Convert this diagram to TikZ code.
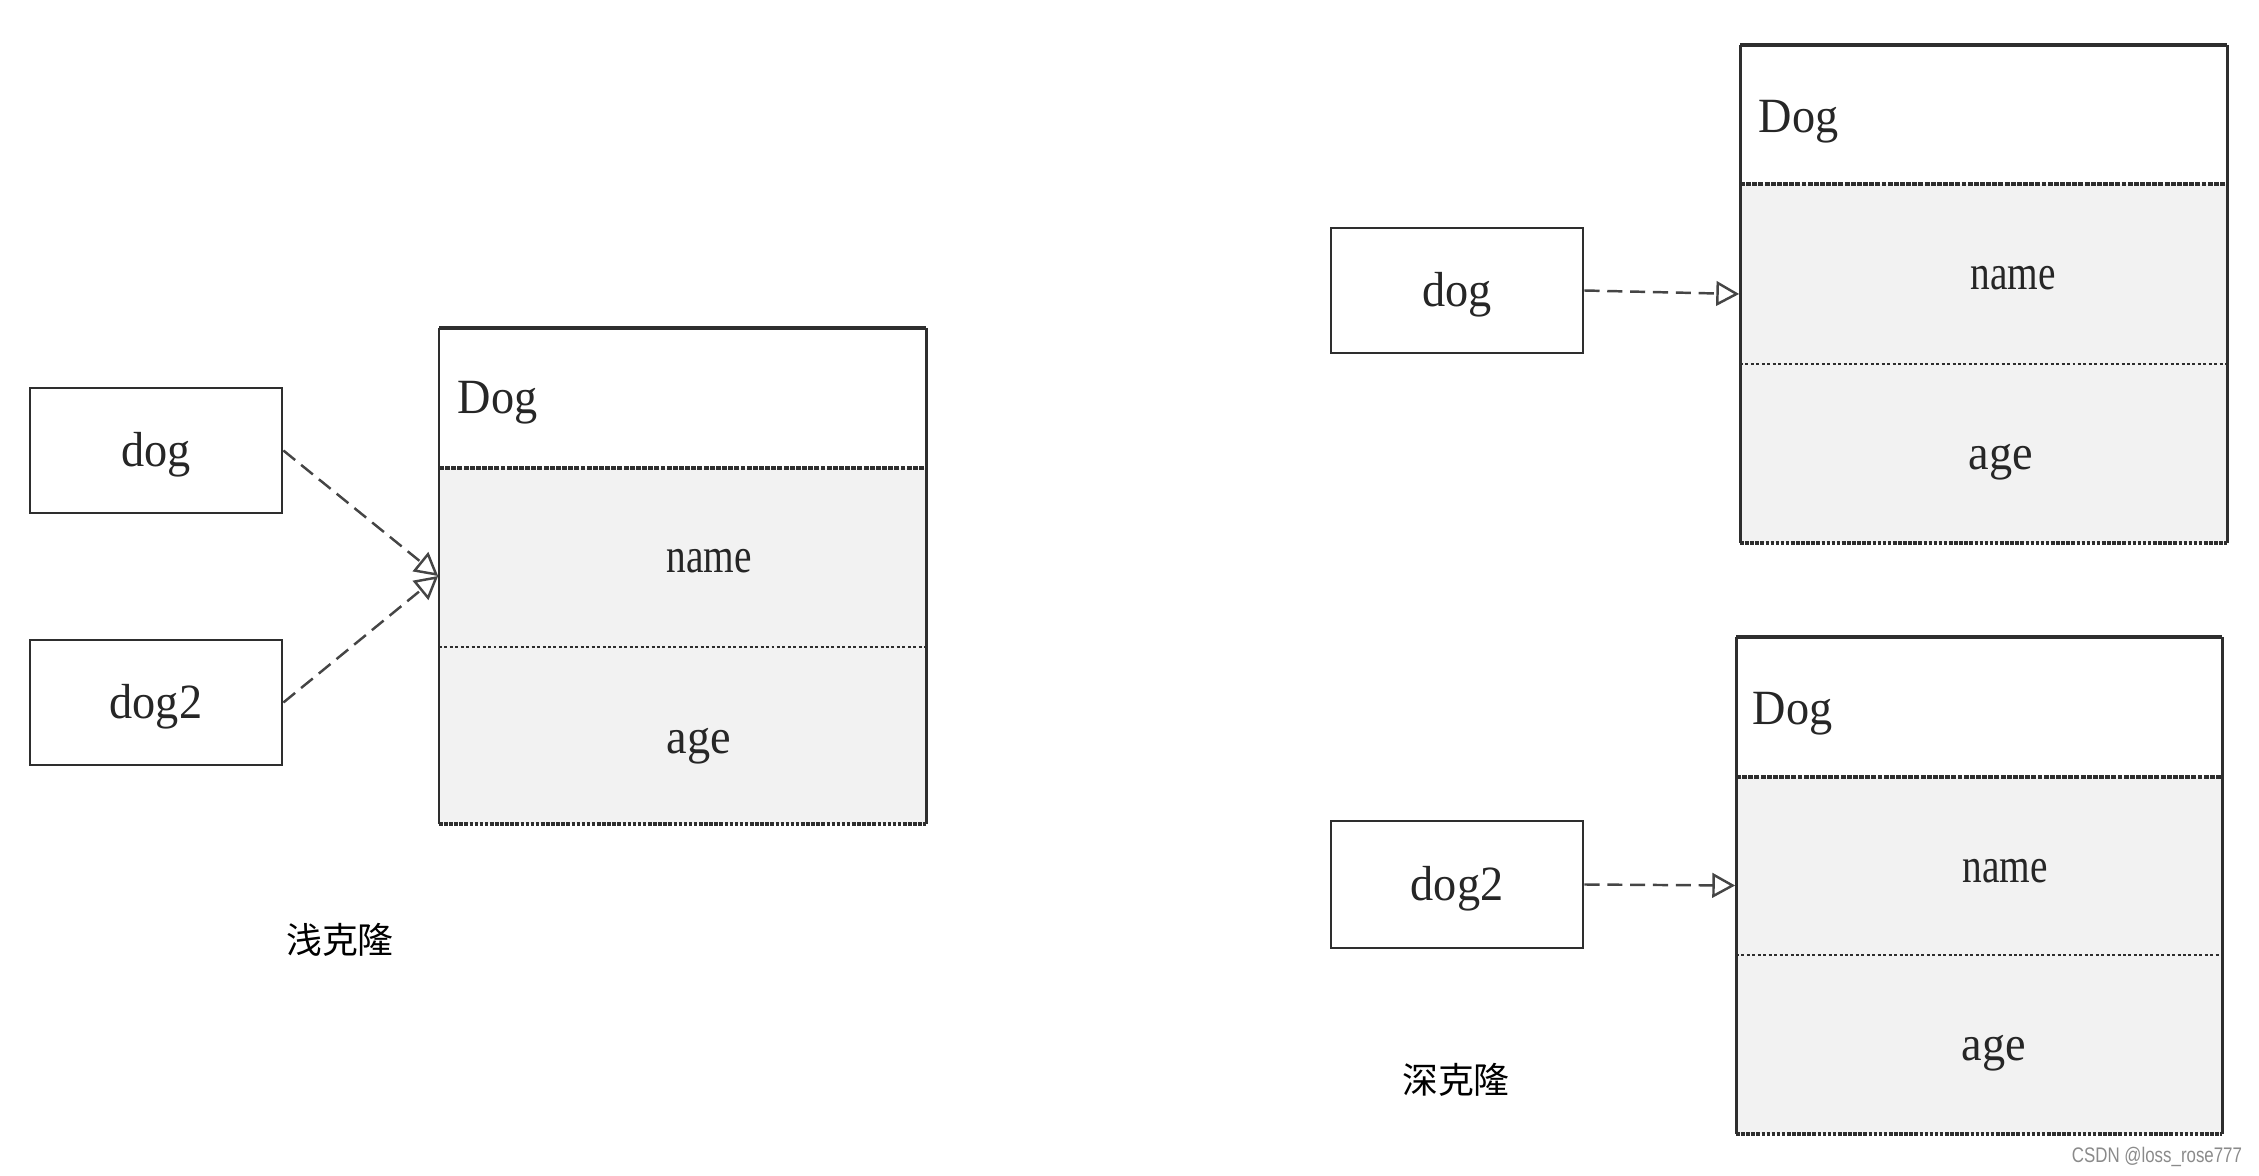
\documentclass[tikz,border=0pt]{standalone}
\usepackage{fontspec}
\setmainfont{Liberation Serif}[FakeStretch=0.94]
\newfontfamily\cjkfont{Noto Sans CJK SC}
\newfontfamily\wmfont{Liberation Sans}[FakeStretch=0.8]
\usetikzlibrary{arrows.meta}
\definecolor{linec}{HTML}{2E2E2E}
\definecolor{textc}{HTML}{262626}
\definecolor{bodyfill}{HTML}{F2F2F2}
\definecolor{arrowc}{HTML}{454545}
\definecolor{wmgray}{HTML}{8A8A8A}
% L T R B H M  (pixel coordinates)
\newcommand\classbody[6]{%
  \fill[white] (#1,#2) rectangle (#3,#5);
  \fill[bodyfill] (#1,#5) rectangle (#3,#4);
  \draw[sideline] (#1,#2) -- (#1,#4);
  \draw[sideline] (#3,#2) -- (#3,#4);
  \draw[topline] (#1,#2) -- (#3,#2);
  \draw[hdrline] (#1,#5) -- (#3,#5);
  \draw[midline] (#1,#6) -- (#3,#6);
  \draw[botline] (#1,#4) -- (#3,#4);
}
\begin{document}
\begin{tikzpicture}[x=0.01cm,y=-0.01cm,
  objbox/.style={draw=linec, line width=0.75pt, fill=white, minimum width=2.52cm, minimum height=1.25cm, inner sep=0pt, text=textc, text height=12pt, text depth=3pt, font=\fontsize{14}{16}\selectfont},
  classframe/.style={inner sep=0pt, draw=none},
  sideline/.style={draw=linec, line width=0.85pt},
  topline/.style={draw=linec, line width=1.2pt},
  hdrline/.style={draw=linec, line width=1.1pt, dash pattern=on 1.4pt off 0.35pt},
  midline/.style={draw=linec, line width=0.85pt, dash pattern=on 0.85pt off 0.7pt},
  botline/.style={draw=linec, line width=1.2pt, dash pattern=on 1pt off 0.45pt},
  ref/.style={draw=arrowc, line width=0.7pt, dash pattern=on 4.3pt off 2.2pt, -{Triangle[open, length=6.5pt, width=7pt]}},
  lbl/.style={font=\fontsize{14}{16}\selectfont, text=textc, inner sep=0pt, anchor=base},
  cjk/.style={font=\cjkfont\fontsize{10.2}{12}\selectfont, inner sep=0pt}
]
\useasboundingbox (0,0) rectangle (2259,1176);

% ---------- shallow clone ----------
\classbody{439}{328}{926}{824}{468}{647}
\node[classframe, minimum width=4.87cm, minimum height=4.96cm] (cls1) at (682.5,576) {};
\node[lbl, anchor=base west] (c1t) at (457,414) {Dog};
\node[lbl] (c1n) at (709,573) {\scalebox{0.85}[1]{name}};
\node[lbl] (c1a) at (699,753) {age};

\node[objbox] (d1) at (156,450.5) {dog};
\node[objbox] (d2) at (156,702.5) {dog2};

\draw[ref] (d1.east) -- (cls1.west);
\draw[ref] (d2.east) -- (cls1.west);

\node[cjk] (lab1) at (340,940) {浅克隆};

% ---------- deep clone ----------
\classbody{1740}{45}{2227}{543}{184}{364}
\node[classframe, minimum width=4.87cm, minimum height=4.98cm] (cls2) at (1983.5,294) {};
\node[lbl, anchor=base west] (c2t) at (1758,133) {Dog};
\node[lbl] (c2n) at (2013,290) {\scalebox{0.85}[1]{name}};
\node[lbl] (c2a) at (2001,469) {age};

\classbody{1736}{637}{2222}{1134}{777}{955}
\node[classframe, minimum width=4.86cm, minimum height=4.97cm] (cls3) at (1979,885.5) {};
\node[lbl, anchor=base west] (c3t) at (1752,725) {Dog};
\node[lbl] (c3n) at (2005,882) {\scalebox{0.85}[1]{name}};
\node[lbl] (c3a) at (1994,1060) {age};

\node[objbox] (d3) at (1457,290.5) {dog};
\node[objbox, minimum height=1.27cm] (d4) at (1457,884.5) {dog2};

\draw[ref] (d3.east) -- (cls2.west);
\draw[ref] (d4.east) -- (cls3.west);

\node[cjk] (lab2) at (1456,1080) {深克隆};

\node[font=\wmfont\fontsize{6}{7}\selectfont, text=wmgray, inner sep=0pt] (wm) at (2157,1157) {CSDN @loss\_rose777};
\end{tikzpicture}
\end{document}
